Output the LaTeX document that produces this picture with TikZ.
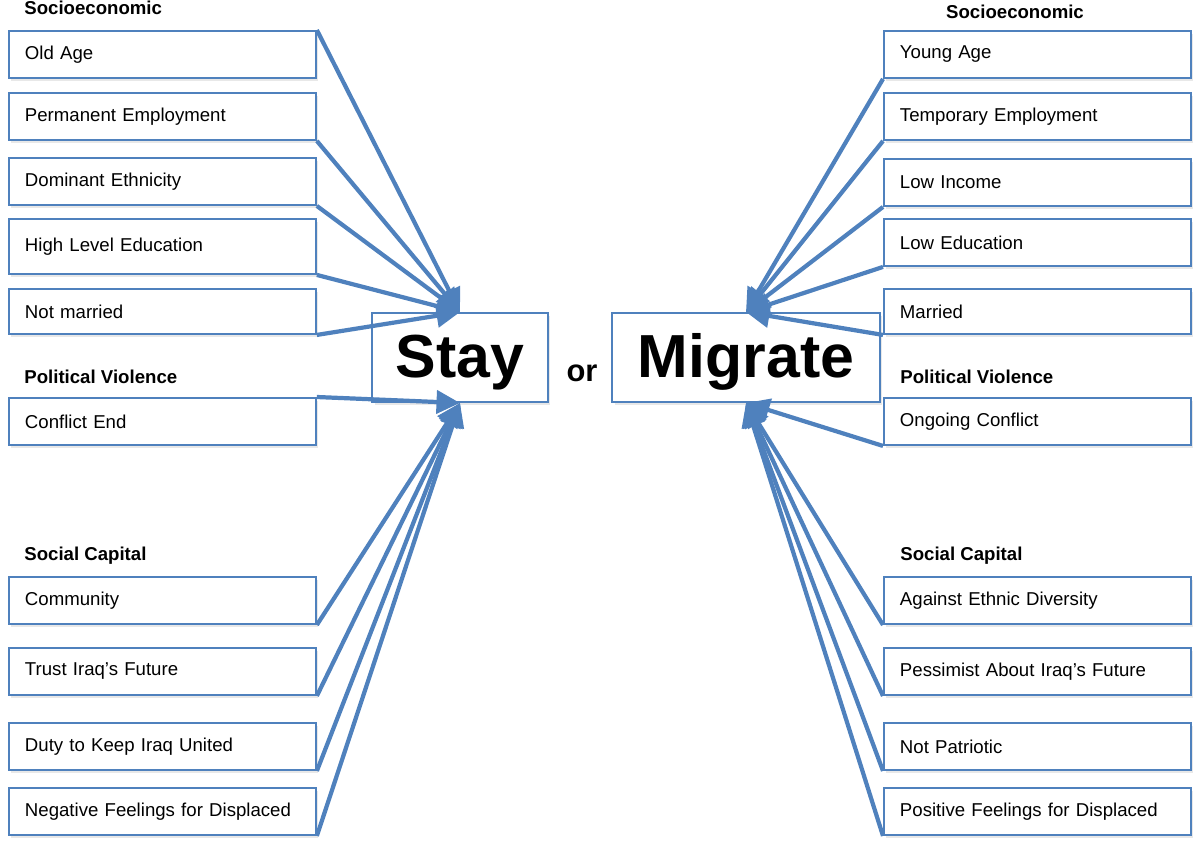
\documentclass[tikz,border=0pt]{standalone}
\usepackage{fontspec}
\setmainfont{Liberation Sans}
\usepackage{xcolor}
\usetikzlibrary{arrows.meta,positioning,shadows}
\definecolor{linkblue}{RGB}{79,129,189}

\begin{document}
\begin{tikzpicture}[
  x=0.02cm, y=-0.02cm,
  factor/.style={rectangle, draw=linkblue, line width=1.1pt, fill=white,
                 anchor=north west, minimum height=0.94cm, text width=5.5cm,
                 inner xsep=0.32cm, inner ysep=0pt, align=left,
                 font=\fontsize{10.6}{12}\selectfont,
                 drop shadow={opacity=0.18, shadow xshift=0.05cm, shadow yshift=-0.06cm}},
  group/.style={anchor=base west, inner sep=0pt,
                font=\fontsize{10.6}{12}\selectfont\bfseries},
  choice/.style={rectangle, draw=linkblue, line width=1.1pt, fill=white,
                 minimum height=1.78cm, text height=1.04cm, text depth=0.26cm,
                 font=\fontsize{34.6}{40}\selectfont\bfseries,
                 drop shadow={opacity=0.18, shadow xshift=0.05cm, shadow yshift=-0.06cm}},
  arr/.style={-{Triangle[length=0.47cm, width=0.46cm]}, line width=2.4pt, linkblue},
]
  \useasboundingbox (0,0) rectangle (1200,846);

  % Left: stay factors
  \node[group] (seL) at (24,14.5) {Socioeconomic};
  \node[factor] (oldage)   at (8,30)  {Old Age};
  \node[factor] (permemp)  at (8,92)  {Permanent Employment};
  \node[factor] (dometh)   at (8,157) {Dominant Ethnicity};
  \node[factor, minimum height=1.1cm] (highedu) at (8,218) {High Level Education};
  \node[factor, minimum height=0.9cm] (notmar)  at (8,288) {Not married};

  \node[group] (pvL) at (24,383.5) {Political Violence};
  \node[factor] (confend)  at (8,397) {Conflict End};

  \node[group] (scL) at (24,560) {Social Capital};
  \node[factor] (commun)   at (8,576) {Community};
  \node[factor] (trustfut) at (8,647) {Trust Iraq's Future};
  \node[factor] (dutyunit) at (8,722) {Duty to Keep Iraq United};
  \node[factor] (negdisp)  at (8,787) {Negative Feelings for Displaced};

  % Right: migrate factors
  \node[group, anchor=base] (seR) at (1015,18.5) {Socioeconomic};
  \node[factor] (youngage) at (883,30)  {Young Age};
  \node[factor] (tempemp)  at (883,92)  {Temporary Employment};
  \node[factor] (lowinc)   at (883,158) {Low Income};
  \node[factor] (lowedu)   at (883,218) {Low Education};
  \node[factor, minimum height=0.9cm] (married) at (883,288) {Married};

  \node[group] (pvR) at (900,383.5) {Political Violence};
  \node[factor] (ongoing)  at (883,397) {Ongoing Conflict};

  \node[group] (scR) at (900,560) {Social Capital};
  \node[factor] (against)  at (883,576) {Against Ethnic Diversity};
  \node[factor] (pessim)   at (883,647) {Pessimist About Iraq's Future};
  \node[factor] (notpat)   at (883,722) {Not Patriotic};
  \node[factor] (posdisp)  at (883,787) {Positive Feelings for Displaced};

  % Outcomes
  \node[choice, minimum width=3.52cm] (stay) at (460,357.5) {Stay};
  \node[choice, minimum width=5.36cm] (migrate) at (746,357.5) {Migrate};
  \node[anchor=base, inner sep=0pt, font=\fontsize{17.6}{20}\selectfont\bfseries]
    (or) at (582,381) {or};

  % Arrows into Stay
  \draw[arr] (oldage.north east) -- (stay.north);
  \foreach \f in {permemp,dometh,highedu,notmar}
    \draw[arr] (\f.south east) -- (stay.north);
  \draw[arr] (confend.north east) -- (stay.south);
  \foreach \f in {commun,trustfut,dutyunit,negdisp}
    \draw[arr] (\f.south east) -- (stay.south);

  % Arrows into Migrate
  \foreach \f in {youngage,tempemp,lowinc,lowedu,married}
    \draw[arr] (\f.south west) -- (migrate.north);
  \foreach \f in {ongoing,against,pessim,notpat,posdisp}
    \draw[arr] (\f.south west) -- (migrate.south);
\end{tikzpicture}
\end{document}
